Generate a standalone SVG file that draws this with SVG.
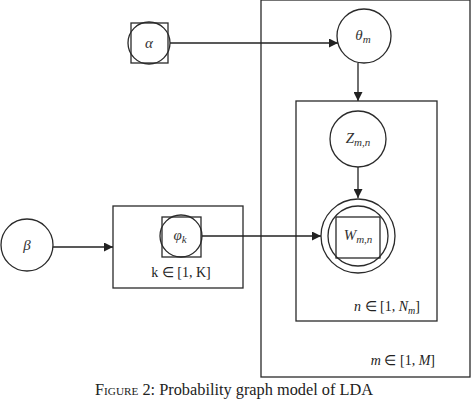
<svg xmlns="http://www.w3.org/2000/svg" width="474" height="400" viewBox="0 0 474 400">
<defs>
<marker id="arr" viewBox="0 0 10 10" refX="10" refY="5" markerWidth="9" markerHeight="9" markerUnits="userSpaceOnUse" orient="auto"><path d="M0,0 L10,5 L0,10 z" fill="#222"/></marker>
<style>
.s{fill:none;stroke:#2a2a2a;stroke-width:1.3}
.c{fill:#fff;stroke:#2a2a2a;stroke-width:1.3}
.l{font-family:"Liberation Serif",serif;font-style:italic;font-size:15px;fill:#333;text-anchor:middle}
.sub{font-size:11px}
.p{font-family:"Liberation Serif",serif;font-size:14px;fill:#222}
.e{stroke:#222;stroke-width:1.3;fill:none;marker-end:url(#arr)}
</style>
</defs>
<rect width="474" height="400" fill="#fff"/>
<g id="plate-m"><rect class="s" x="261" y="0" width="209" height="377"/><text class="p" x="435" y="365" text-anchor="end"><tspan font-style="italic">m</tspan> ∈ [1, <tspan font-style="italic">M</tspan>]</text></g>
<g id="plate-n"><rect class="s" x="296" y="101" width="141" height="220"/><text class="p" x="420" y="311" text-anchor="end"><tspan font-style="italic">n</tspan> ∈ [1, <tspan font-style="italic">N</tspan><tspan font-style="italic" font-size="10" dy="3">m</tspan><tspan dy="-3">]</tspan></text></g>
<g id="plate-k"><rect class="s" x="113" y="206" width="130" height="82"/><text class="p" x="181" y="277" text-anchor="middle">k ∈ [1, K]</text></g>
<g id="connectors">
<line class="e" x1="170" y1="43" x2="338" y2="43"/>
<line class="e" x1="358" y1="63" x2="358" y2="101"/>
<line class="e" x1="358" y1="167" x2="358" y2="198"/>
<line class="e" x1="53" y1="247" x2="113" y2="247"/>
<line class="e" x1="202" y1="236" x2="321" y2="236"/>
</g>
<g id="alpha"><rect class="s" x="131" y="23" width="37" height="40"/><circle class="s" cx="149" cy="43" r="21"/><text class="l" x="149" y="48">α</text></g>
<g id="theta"><circle class="c" cx="364" cy="36" r="27"/><text class="l" x="363" y="40">θ<tspan class="sub" dy="3">m</tspan></text></g>
<g id="z"><circle class="c" cx="358" cy="139" r="28"/><text class="l" x="358" y="143">Z<tspan class="sub" dy="3">m,n</tspan></text></g>
<g id="w"><circle class="c" cx="358" cy="236" r="37"/><circle class="s" cx="358" cy="236" r="30"/><rect class="s" x="336" y="217" width="44" height="41"/><text class="l" x="358" y="240">W<tspan class="sub" dy="3">m,n</tspan></text></g>
<g id="beta"><circle class="c" cx="27" cy="245" r="26"/><text class="l" x="27" y="250">β</text></g>
<g id="phi"><rect class="s" x="162" y="217" width="39" height="40"/><circle class="s" cx="181" cy="236" r="21"/><text class="l" x="180" y="240">φ<tspan class="sub" dy="3">k</tspan></text></g>
<text x="95" y="395" font-family="Liberation Serif,serif" font-size="16" fill="#222" textLength="278" lengthAdjust="spacingAndGlyphs"><tspan font-variant="small-caps">Figure</tspan> 2: Probability graph model of LDA</text>
</svg>
